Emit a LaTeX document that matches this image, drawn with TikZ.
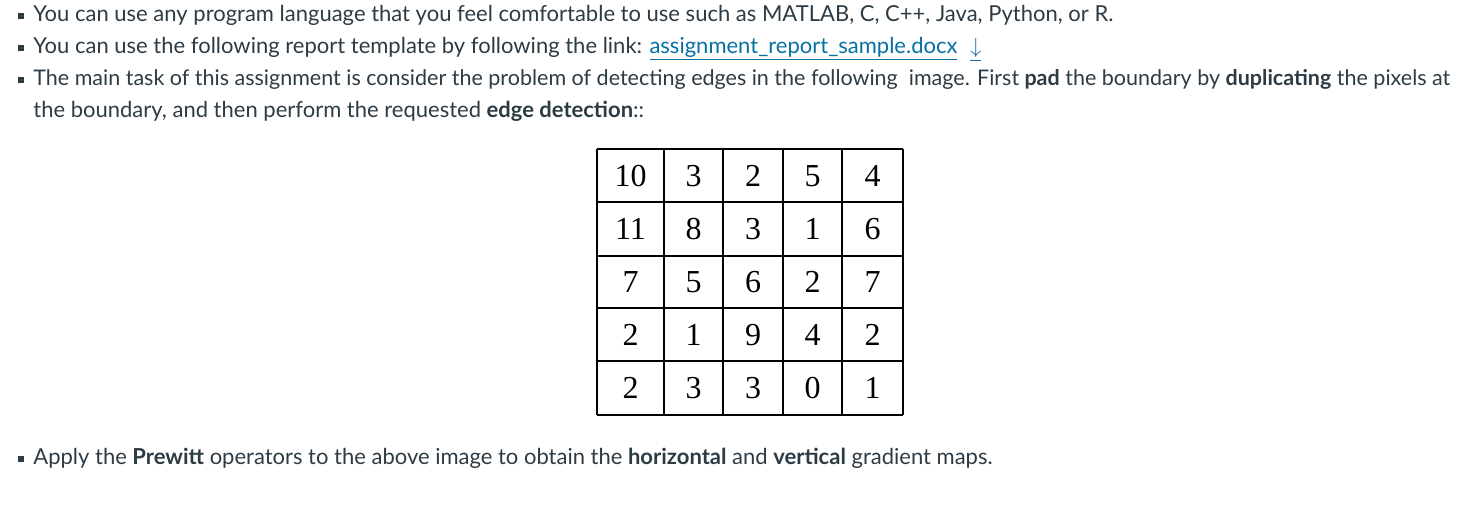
\documentclass[tikz,border=0pt]{standalone}
\usepackage{fontspec}
\setmainfont{Lato}
\newfontfamily\gridfont{Liberation Serif}
\definecolor{txt}{HTML}{2D3B45}
\definecolor{lnk}{HTML}{0770A3}
\begin{document}
\begin{tikzpicture}[x=0.5pt,y=-0.5pt,
  line/.style={anchor=base west,inner sep=0,text=txt,font=\fontsize{11}{13}\selectfont},
  bul/.style={fill=txt,minimum size=2.8pt,inner sep=0},
  cell/.style={font=\gridfont\fontsize{16}{18}\selectfont}]
\useasboundingbox (0,0) rectangle (1469,505);
\node[bul] (b1) at (21,16) {};
\node[line] (l1) at (33,21) {You can use any program language that you feel comfortable to use such as MATLAB, C, C++, Java, Python, or R.};
\node[bul] (b2) at (21,48) {};
\node[line] (l2) at (33,53) {You can use the following report template by following the link: \textcolor{lnk}{\underline{assignment\_report\_sample.docx}}\,\, \textcolor{lnk}{$\underline{\downarrow}$}};
\node[bul] (b3) at (21,80) {};
\node[line,font=\fontsize{10.75}{13}\selectfont] (l3) at (33,85) {The main task of this assignment is consider the problem of detecting edges in the following\ \ image. First \textbf{pad} the boundary by \textbf{duplicating} the pixels at};
\node[line] (l4) at (33,117) {the boundary, and then perform the requested \textbf{edge detection}::};
\node[bul] (b5) at (21,459) {};
\node[line] (l5) at (33,464) {Apply the \textbf{Prewitt} operators to the above image to obtain the \textbf{horizontal} and \textbf{vertical} gradient maps.};
\foreach \x in {597,664,723,783,842,903} \draw[line width=0.55pt] (\x,149) -- (\x,415);
\foreach \y in {149,202,256,308,361,415} \draw[line width=0.55pt] (597,\y) -- (903,\y);
\def\xs{{630.5,693.5,753,812.5,872.5}}
\def\ys{{176,229,282,335,388}}
\foreach \r/\row in {0/{10,3,2,5,4},1/{11,8,3,1,6},2/{7,5,6,2,7},3/{2,1,9,4,2},4/{2,3,3,0,1}}{
  \foreach \v [count=\c from 0] in \row {
    \node[cell] (c\r\c) at ({\xs[\c]},{\ys[\r]}) {\v};
  }
}
\end{tikzpicture}
\end{document}
